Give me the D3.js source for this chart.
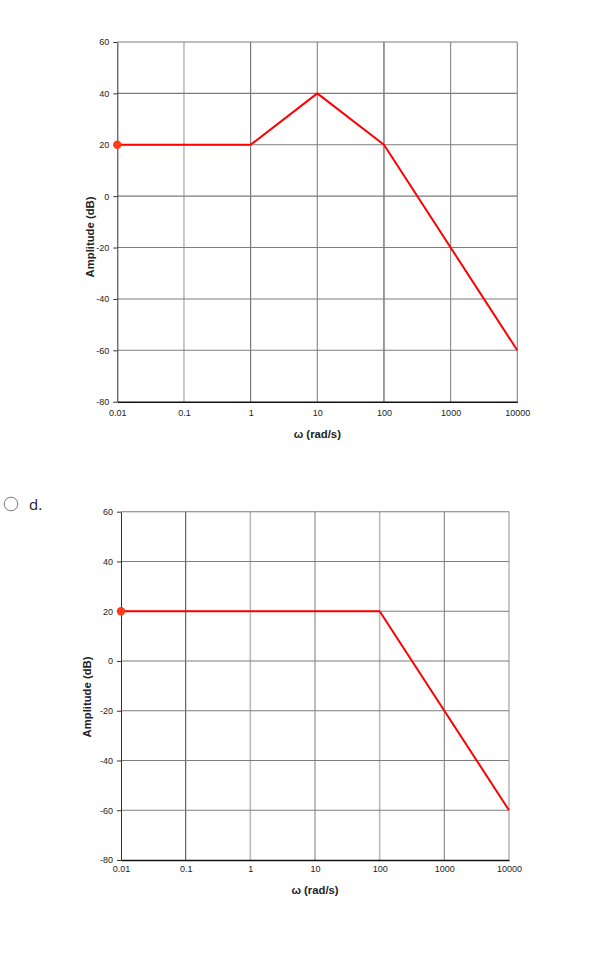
<!DOCTYPE html>
<html>
<head>
<meta charset="utf-8">
<script src="https://cdn.jsdelivr.net/npm/d3@7"></script>
<style>
  body { margin: 0; background: #fff; }
  svg { display: block; }
  .tick text { font-family: "Liberation Sans", Arial, sans-serif; font-size: 9px; fill: #222; }
  .title { font-family: "Liberation Sans", Arial, sans-serif; font-size: 11.3px; font-weight: bold; fill: #222; }
</style>
</head>
<body>
<script>
// x ticks (rad/s) and y ticks (dB)
var freq_ticks = [0.01, 0.1, 1, 10, 100, 1000, 10000];
var amp_ticks = [-80, -60, -40, -20, 0, 20, 40, 60];

// asymptotic bode plot, top chart
var top_freq = [0.01, 1, 10, 100, 10000];
var top_amp = [20, 20, 40, 20, -60];

// option d.
var d_freq = [0.01, 100, 10000];
var d_amp = [20, 20, -60];

var WIDTH = 616, HEIGHT = 960;

var svg = d3.select("body").append("svg")
    .attr("width", WIDTH)
    .attr("height", HEIGHT);

function draw_chart(box, freq, amp) {

    var x = d3.scaleLog().domain([0.01, 10000]).range([box.left, box.right]);
    var y = d3.scaleLinear().domain([-80, 60]).range([box.bottom, box.top]);

    var g = svg.append("g");

    // grid (the scanned picture has uneven greys)
    g.append("g")
        .selectAll("line")
        .data(freq_ticks.slice(1))
        .enter().append("line")
        .attr("x1", function(d) { return x(d); })
        .attr("x2", function(d) { return x(d); })
        .attr("y1", box.top)
        .attr("y2", box.bottom)
        .attr("stroke", function(d, i) { return box.vgrid[i]; })
        .attr("stroke-width", function(d, i) { return box.vgrid[i] == "#bbb" ? 1.6 : 1.1; });

    g.append("g")
        .selectAll("line")
        .data(amp_ticks.slice(1))
        .enter().append("line")
        .attr("x1", box.left)
        .attr("x2", box.right)
        .attr("y1", function(d) { return y(d); })
        .attr("y2", function(d) { return y(d); })
        .attr("stroke", "#7d7d7d")
        .attr("stroke-width", 1.1);

    // y axis
    var y_axis = g.append("g")
        .attr("transform", "translate(" + box.left + ",0)")
        .call(d3.axisLeft(y).tickValues(amp_ticks).tickFormat(function(d) { return String(d); })
              .tickSize(4).tickPadding(4).tickSizeOuter(0));
    y_axis.select(".domain").attr("stroke", "#333");
    y_axis.selectAll(".tick line").attr("stroke", "#333");

    // x axis
    var x_axis = g.append("g")
        .attr("transform", "translate(0," + box.bottom + ")")
        .call(d3.axisBottom(x).tickValues(freq_ticks).tickFormat(function(d) { return String(d); })
              .tickSize(0).tickPadding(box.xpad).tickSizeOuter(0));
    x_axis.select(".domain").attr("stroke", "#111").attr("stroke-width", 1.5);

    // response
    var pts = freq.map(function(f, i) { return [f, amp[i]]; });
    var line = d3.line()
        .x(function(d) { return x(d[0]); })
        .y(function(d) { return y(d[1]); });

    g.append("path")
        .datum(pts)
        .attr("fill", "none")
        .attr("stroke", "#ff0000")
        .attr("stroke-width", 2)
        .attr("stroke-linejoin", "round")
        .attr("d", line);

    g.append("circle")
        .attr("cx", x(pts[0][0]))
        .attr("cy", y(pts[0][1]))
        .attr("r", 4.2)
        .attr("fill", "#ff3b1a");

    // axis titles
    g.append("text")
        .attr("class", "title")
        .attr("x", (box.left + box.right) / 2)
        .attr("y", box.bottom + box.xtitle)
        .attr("text-anchor", "middle")
        .text("\u03c9 (rad/s)");

    g.append("text")
        .attr("class", "title")
        .attr("transform", "translate(" + box.ylab_x + "," + box.ylab_y + ") rotate(-90)")
        .attr("text-anchor", "middle")
        .text("Amplitude (dB)");
}

draw_chart({left: 117.3, right: 517.3, top: 42, bottom: 401.7, xpad: 8, xtitle: 36,
            ylab_x: 94, ylab_y: 237,
            vgrid: ["#bbb", "#6e6e6e", "#858585", "#4a4a4a", "#858585", "#858585"]},
           top_freq, top_amp);

// radio option
svg.append("circle")
    .attr("cx", 11)
    .attr("cy", 504)
    .attr("r", 6.8)
    .attr("fill", "#fff")
    .attr("stroke", "#777")
    .attr("stroke-width", 1);

svg.append("text")
    .attr("x", 29)
    .attr("y", 509.5)
    .style("font-family", "Open Sans, sans-serif")
    .style("font-size", "15px")
    .attr("fill", "#1d2125")
    .text("d.");

draw_chart({left: 121, right: 509, top: 511.7, bottom: 860, xpad: 6, xtitle: 34,
            ylab_x: 91, ylab_y: 697,
            vgrid: ["#555", "#bbb", "#858585", "#bbb", "#858585", "#bbb"]},
           d_freq, d_amp);
</script>
</body>
</html>
